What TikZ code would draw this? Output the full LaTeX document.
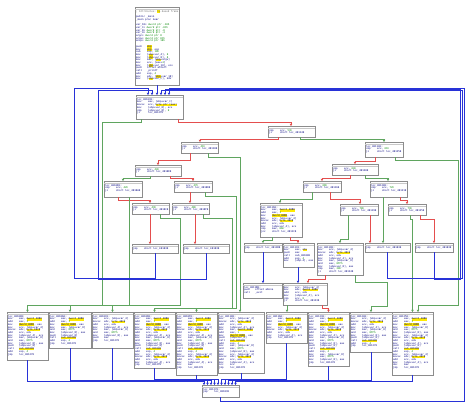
\documentclass[tikz,border=0pt]{standalone}
\usepackage{fontspec}
\setmonofont{DejaVu Sans Mono}
\usetikzlibrary{arrows.meta}
\definecolor{eblue}{RGB}{40,50,215}
\definecolor{egreen}{RGB}{95,165,95}
\definecolor{ered}{RGB}{228,78,78}
\definecolor{bframe}{RGB}{140,140,140}
\definecolor{hbar}{RGB}{200,200,200}
\definecolor{navy}{RGB}{0,0,128}
\definecolor{igreen}{RGB}{0,135,0}
\definecolor{hyel}{RGB}{255,235,0}
\definecolor{icom}{RGB}{110,110,110}
\tikzset{
  ibx/.style={draw=bframe, fill=white, line width=0.4pt, inner sep=0pt, outer sep=0pt, rectangle, anchor=north west},
  itx/.style={inner sep=0pt, outer sep=0pt, align=left, text=navy, anchor=north west, font=\ttfamily\fontsize{2.5}{2.7}\selectfont},
  hdr/.style={draw=hbar, line width=0.6pt},
  edgeline/.style={line width=0.55pt, -{Triangle[length=2.2pt,width=2.4pt]}},
  eb/.style={edgeline, color=eblue},
  eg/.style={edgeline, color=egreen},
  er/.style={edgeline, color=ered}
}
\newcommand\IdIns[2]{\makebox[4.4em][l]{#1}#2}
\newcommand\IdLb[1]{loc\_#1:}
\newcommand\IdNm[1]{\textcolor{igreen}{#1}}
\newcommand\IdHy[1]{{\fboxsep=0pt\colorbox{hyel}{#1}}}
\newcommand\IdCm[1]{\textcolor{icom}{#1}}
\newcommand\IdBl{\mbox{}}
\newcommand\CkA{\IdIns{mov}{eax, \IdHy{dword\_40B0}}\\\IdIns{add}{eax, \IdNm{1}}\\\IdIns{mov}{\IdHy{dword\_40B0}, eax}}
\newcommand\CkB{\IdIns{mov}{ecx, [ebp+var\_4]}\\\IdIns{movsx}{edx, \IdHy{byte\_40C0}}\\\IdIns{add}{ecx, edx}\\\IdIns{mov}{[ebp+var\_4], ecx}}
\newcommand\CkC{\IdIns{mov}{eax, [ebp+var\_8]}\\\IdIns{and}{eax, \IdNm{0FFh}}\\\IdIns{mov}{[ebp+var\_8], eax}}
\newcommand\CkD{\IdIns{push}{[ebp+var\_8]}\\\IdIns{call}{\IdHy{sub\_401000}}\\\IdIns{add}{esp, \IdNm{4}}}
\newcommand\IdBox[6]{%
  \node[ibx, minimum width=#4pt, minimum height=#5pt] (#1) at (#2,#3) {};
  \draw[hdr] ([shift={(0.4pt,-2.4pt)}]#1.north west) -- ([shift={(-0.4pt,-2.4pt)}]#1.north east);
  \node[itx] (#1t) at ([shift={(1.2pt,-3.3pt)}]#1.north west) {#6};
}
\begin{document}
\begin{tikzpicture}[x=1pt,y=-1pt]
\fill[white] (0,0) rectangle (474,413);
\useasboundingbox (0,0) rectangle (474,413);

% ---------------- boxes ----------------
\IdBox{N0}{135}{7}{44}{78}{\IdCm{; Attributes: \IdHy{bp}-based frame}\\\IdBl\\
public \_main\\\_main proc near\\\IdBl\\
var\_10= \IdNm{dword ptr -10h}\\var\_C= \IdNm{dword ptr -0Ch}\\var\_8= \IdNm{dword ptr -8}\\
var\_4= \IdNm{dword ptr -4}\\argc= \IdNm{dword ptr  8}\\argv= \IdNm{dword ptr  0Ch}\\
envp= \IdNm{dword ptr  10h}\\\IdBl\\
\IdIns{push}{\IdHy{ebp}}\\\IdIns{mov}{\IdHy{ebp}, esp}\\\IdIns{sub}{esp, \IdNm{10h}}\\
\IdIns{mov}{[\IdHy{ebp}+var\_4], \IdNm{0}}\\\IdIns{mov}{[\IdHy{ebp}+var\_8], \IdNm{0}}\\
\IdIns{mov}{eax, [\IdHy{ebp}+argv]}\\\IdIns{mov}{ecx, [eax+\IdNm{4}]}\\
\IdIns{mov}{[\IdHy{ebp}+var\_10], ecx}\\\IdIns{push}{offset aStart}\\\IdIns{call}{\_printf}\\
\IdIns{add}{esp, \IdNm{4}}\\\IdIns{mov}{edx, [\IdHy{ebp}+var\_10]}\\\IdIns{mov}{[\IdHy{ebp}+var\_C], edx}}

\IdBox{N1}{136}{95}{47}{24}{\IdLb{401030}\\\IdIns{mov}{eax, [ebp+var\_C]}\\
\IdIns{movsx}{ecx, \IdHy{byte ptr [eax]}}\\\IdIns{mov}{[ebp+var\_8], ecx}\\
\IdIns{cmp}{[ebp+var\_8], \IdNm{0}}\\\IdIns{jz}{loc\_401270}}

\IdBox{N2}{268}{126}{47}{11}{\IdIns{cmp}{ecx, \IdNm{53h}}\\\IdIns{jz}{short loc\_401140}}
\IdBox{N3}{181}{142}{37}{11}{\IdIns{cmp}{ecx, \IdNm{41h}}\\\IdIns{jz}{short loc\_401100}}
\IdBox{N4}{365}{142}{38}{15}{\IdLb{401140}\\\IdIns{cmp}{ecx, \IdNm{61h}}\\\IdIns{jz}{short loc\_401250}}
\IdBox{N5}{135}{165}{46}{11}{\IdIns{cmp}{ecx, \IdNm{44h}}\\\IdIns{jl}{short loc\_4010E0}}
\IdBox{N6}{332}{164}{46}{11}{\IdIns{cmp}{ecx, \IdNm{64h}}\\\IdIns{jz}{short loc\_401200}}
\IdBox{N7}{104}{181}{38}{16}{\IdLb{4010E0}\\\IdIns{cmp}{ecx, \IdNm{42h}}\\\IdIns{jz}{short loc\_4010A0}}
\IdBox{N8}{174}{181}{38}{11}{\IdIns{cmp}{ecx, \IdNm{47h}}\\\IdIns{jz}{short loc\_4010D0}}
\IdBox{N9}{303}{181}{38}{11}{\IdIns{cmp}{ecx, \IdNm{6Dh}}\\\IdIns{jz}{short loc\_401160}}
\IdBox{N10}{370}{181}{37}{16}{\IdLb{401200}\\\IdIns{cmp}{ecx, \IdNm{72h}}\\\IdIns{jz}{short loc\_401210}}
\IdBox{N11}{132}{203}{37}{11}{\IdIns{cmp}{ecx, \IdNm{43h}}\\\IdIns{jz}{short loc\_4010C0}}
\IdBox{N12}{172}{203}{37}{11}{\IdIns{cmp}{ecx, \IdNm{48h}}\\\IdIns{jz}{short loc\_4010F0}}
\IdBox{N13}{260}{203}{42}{34}{\IdLb{401160}\\\CkA\\\CkB\\\IdIns{cmp}{eax, \IdNm{0Ah}}\\\IdIns{jnz}{short loc\_4011C0}}
\IdBox{N14}{340}{204}{38}{11}{\IdIns{cmp}{ecx, \IdNm{70h}}\\\IdIns{jz}{short loc\_401190}}
\IdBox{N15}{388}{204}{38}{11}{\IdIns{cmp}{ecx, \IdNm{73h}}\\\IdIns{jz}{short loc\_401250}}
\IdBox{N16}{132}{244}{46}{9}{\IdIns{jmp}{short loc\_401030}}
\IdBox{N17}{183}{244}{46}{9}{\IdIns{jmp}{short loc\_401030}}
\IdBox{N18}{244}{243}{38}{9}{\IdIns{jmp}{short loc\_4011B0}}
\IdBox{N19}{283}{243}{31}{24}{\IdLb{4011C0}\\\IdIns{mov}{eax, \IdHy{ebx}}\\\IdIns{push}{eax}\\
\IdIns{call}{sub\_401000}\\\IdIns{add}{esp, \IdNm{4}}\\\IdIns{mov}{[ebp-4], eax}}
\IdBox{N20}{317}{243}{46}{32}{\IdLb{401190}\\\CkB\\\CkC\\\IdIns{cmp}{eax, \IdNm{20h}}\\\IdIns{jz}{short loc\_401240}}
\IdBox{N21}{365}{243}{45}{9}{\IdIns{jmp}{short loc\_401030}}
\IdBox{N22}{415}{243}{38}{9}{\IdIns{jmp}{short loc\_401030}}
\IdBox{N23}{243}{283}{39}{15}{\IdLb{4011B0}\\\IdIns{push}{offset aDone}\\\IdIns{call}{\_exit}}
\IdBox{N24}{283}{283}{44}{22}{\IdIns{mov}{ecx, [ebp+var\_4]}\\\IdIns{mov}{edx, \IdHy{dword\_40B0}}\\
\IdIns{add}{ecx, edx}\\\IdIns{mov}{[ebp+var\_4], ecx}\\\IdIns{cmp}{ecx, \IdNm{0}}\\\IdIns{jz}{short loc\_401230}}

\IdBox{B1}{7}{312}{41}{48}{\IdLb{401080}\\\CkA\\\CkB\\\CkC\\\CkD\\\IdIns{jmp}{loc\_401270}}
\IdBox{B2}{49}{312}{42}{36}{\IdLb{4010A0}\\\CkA\\\CkC\\\CkD\\\IdIns{jmp}{loc\_401270}}
\IdBox{B3}{92}{312}{41}{36}{\IdLb{4010C0}\\\CkB\\\CkC\\\IdIns{push}{eax}\\\IdIns{jmp}{loc\_401270}}
\IdBox{B4}{134}{312}{41}{56}{\IdLb{4010D0}\\\CkA\\\CkB\\\CkC\\\CkD\\\CkB\\\IdIns{jmp}{loc\_401270}}
\IdBox{B5}{176}{312}{41}{63}{\IdLb{4010F0}\\\CkA\\\CkB\\\CkC\\\CkD\\\CkB\\\IdIns{inc}{eax}\\\IdIns{jmp}{loc\_401270}}
\IdBox{B6}{218}{312}{46}{61}{\IdLb{401100}\\\CkB\\\CkA\\\CkD\\\CkC\\\CkB\\\IdIns{inc}{ecx}\\\IdIns{jmp}{loc\_401270}}
\IdBox{B7}{266}{312}{41}{31}{\IdLb{4011A0}\\\CkA\\\CkB\\\IdIns{jmp}{loc\_401270}}
\IdBox{B8}{308}{312}{41}{54}{\IdLb{401230}\\\CkA\\\CkB\\\CkC\\\CkD\\\CkC\\\IdIns{jmp}{loc\_401270}}
\IdBox{B9}{350}{312}{42}{40}{\IdLb{401240}\\\CkB\\\CkC\\\CkD\\\IdIns{jmp}{loc\_401270}}
\IdBox{B10}{392}{312}{41}{63}{\IdLb{401250}\\\CkA\\\CkC\\\CkB\\\CkD\\\CkB\\\IdIns{dec}{eax}\\\IdIns{jmp}{loc\_401270}}
\IdBox{NE}{202}{385}{37}{12}{\IdLb{401270}\\\IdIns{jmp}{loc\_401030}}

% ---------------- edges ----------------
\draw[eb] ([xshift=22pt]N0.south west) -- ([xshift=21pt]N1.north west);
\draw[er] ([xshift=42pt]N1.south west) -- (178,122) -- (291,122) -- ([xshift=23pt]N2.north west);
\draw[eg] ([xshift=5pt]N1.south west) -- (141,122) -- (102,122) -- (102,305) -- (27.5,305) -- ([xshift=20.5pt]B1.north west);
\draw[er] ([xshift=10pt]N2.south west) -- (278,139) -- (200,139) -- ([xshift=19pt]N3.north west);
\draw[eg] ([xshift=32pt]N2.south west) -- (300,139.5) -- (384,139.5) -- ([xshift=19pt]N4.north west);
\draw[er] ([xshift=9pt]N3.south west) -- (190,160) -- (158,160) -- ([xshift=23pt]N5.north west);
\draw[eg] ([xshift=27pt]N3.south west) -- (208,157) -- (240,157) -- ([xshift=22pt]B6.north west);
\draw[er] ([xshift=10pt]N4.south west) -- (375,161) -- (355,161) -- ([xshift=23pt]N6.north west);
\draw[eg] ([xshift=30pt]N4.south west) -- (395,160.5) -- (458,160.5) -- (458,305) -- (418,305) -- ([xshift=26pt]B10.north west);
\draw[eg] ([xshift=15pt]N5.south west) -- (150,178.5) -- (123,178.5) -- ([xshift=19pt]N7.north west);
\draw[er] ([xshift=35pt]N5.south west) -- (170,178.5) -- (193,178.5) -- ([xshift=19pt]N8.north west);
\draw[er] ([xshift=18pt]N6.south west) -- (350,178) -- (322,178) -- ([xshift=19pt]N9.north west);
\draw[eg] ([xshift=33pt]N6.south west) -- (365,178) -- (388,178) -- ([xshift=18pt]N10.north west);
\draw[er] ([xshift=14pt]N7.south west) -- (118,200) -- (150,200) -- ([xshift=18pt]N11.north west);
\draw[eg] ([xshift=25pt]N7.south west) -- (129,305) -- (70,305) -- ([xshift=21pt]B2.north west);
\draw[er] ([xshift=16pt]N8.south west) -- ([xshift=18pt]N12.north west);
\draw[eg] ([xshift=31pt]N8.south west) -- (205,196) -- (236,196) -- (236,308) -- (154.5,308) -- ([xshift=20.5pt]B4.north west);
\draw[eg] ([xshift=9pt]N9.south west) -- (312,199) -- (280,199) -- ([xshift=20pt]N13.north west);
\draw[er] ([xshift=27pt]N9.south west) -- (330,199) -- (360,199) -- ([xshift=20pt]N14.north west);
\draw[er] ([xshift=30pt]N10.south west) -- (400,200) -- (407,200) -- ([xshift=19pt]N15.north west);
\draw[eg] ([xshift=13pt]N10.south west) -- ([xshift=18pt]N21.north west);
\draw[er] ([xshift=18pt]N11.south west) -- ([xshift=18pt]N16.north west);
\draw[eg] ([xshift=28pt]N11.south west) -- (160,218) -- (180,218) -- (180,305) -- (112.5,305) -- ([xshift=20.5pt]B3.north west);
\draw[er] ([xshift=23pt]N12.south west) -- ([xshift=12pt]N17.north west);
\draw[eg] ([xshift=31pt]N12.south west) -- (203,218) -- (232,218) -- (232,308) -- (196.5,308) -- ([xshift=20.5pt]B5.north west);
\draw[eg] ([xshift=12pt]N13.south west) -- (272,240) -- (263,240) -- ([xshift=19pt]N18.north west);
\draw[er] ([xshift=30pt]N13.south west) -- (290,240) -- (298,240) -- ([xshift=15pt]N19.north west);
\draw[eg] ([xshift=8pt]N14.south west) -- (348,239) -- (340,239) -- ([xshift=23pt]N20.north west);
\draw[er] ([xshift=30pt]N14.south west) -- ([xshift=5pt]N21.north west);
\draw[eg] ([xshift=22pt]N15.south west) -- (410,219) -- (412.5,219) -- ([xshift=20.5pt]B10.north west);
\draw[er] ([xshift=32pt]N15.south west) -- (420,219) -- (434,219) -- ([xshift=19pt]N22.north west);
\draw[eb] ([xshift=23pt]N16.south west) -- (155,278) -- (74,278) -- (74,88) -- (148,88) -- ([xshift=12pt]N1.north west);
\draw[eb] ([xshift=23pt]N17.south west) -- (206,278.8) -- (98,278.8) -- (98,90) -- (152,90) -- ([xshift=16pt]N1.north west);
\draw[eb] ([xshift=19pt]N18.south west) -- ([xshift=20pt]N23.north west);
\draw[eb] ([xshift=15pt]N19.south west) -- ([xshift=15pt]N24.north west);
\draw[er] ([xshift=8pt]N20.south west) -- (325,279) -- (308,279) -- ([xshift=25pt]N24.north west);
\draw[eg] ([xshift=38pt]N20.south west) -- (355,282) -- (387,282) -- (387,306) -- (371,306) -- ([xshift=21pt]B9.north west);
\draw[eb] ([xshift=22pt]N21.south west) -- (387,278) -- (462,278) -- (462,90) -- (161,90) -- ([xshift=25pt]N1.north west);
\draw[eb] ([xshift=19pt]N22.south west) -- (434,278.8) -- (460,278.8) -- (460,89) -- (165,89) -- ([xshift=29pt]N1.north west);
\draw[eg] ([xshift=4pt]N24.south west) -- ([xshift=21pt]B7.north west);
\draw[er] ([xshift=39pt]N24.south west) -- (322,308.5) -- (328.5,308.5) -- ([xshift=20.5pt]B8.north west);
\draw[eb] ([xshift=18pt]NE.south west) -- (220,401) -- (464,401) -- (464,88) -- (169,88) -- ([xshift=33pt]N1.north west);
% bottom row to the end block
\draw[eb] ([xshift=20.5pt]B1.south west) -- (27.5,381) -- (204,381) -- ([xshift=2pt]NE.north west);
\draw[eb] ([xshift=21pt]B2.south west) -- (70,380.5) -- (207.5,380.5) -- ([xshift=5.5pt]NE.north west);
\draw[eb] ([xshift=20.5pt]B3.south west) -- (112.5,380) -- (211,380) -- ([xshift=9pt]NE.north west);
\draw[eb] ([xshift=20.5pt]B4.south west) -- (154.5,379.5) -- (214.5,379.5) -- ([xshift=12.5pt]NE.north west);
\draw[eb] ([xshift=20.5pt]B5.south west) -- (196.5,379) -- (218,379) -- ([xshift=16pt]NE.north west);
\draw[eb] ([xshift=23pt]B6.south west) -- (241,379) -- (221.5,379) -- ([xshift=19.5pt]NE.north west);
\draw[eb] ([xshift=20.5pt]B7.south west) -- (286.5,379.5) -- (225,379.5) -- ([xshift=23pt]NE.north west);
\draw[eb] ([xshift=20.5pt]B8.south west) -- (328.5,380) -- (228.5,380) -- ([xshift=26.5pt]NE.north west);
\draw[eb] ([xshift=21pt]B9.south west) -- (371,380.5) -- (232,380.5) -- ([xshift=30pt]NE.north west);
\draw[eb] ([xshift=20.5pt]B10.south west) -- (412.5,381) -- (235.5,381) -- ([xshift=33.5pt]NE.north west);
\end{tikzpicture}
\end{document}
